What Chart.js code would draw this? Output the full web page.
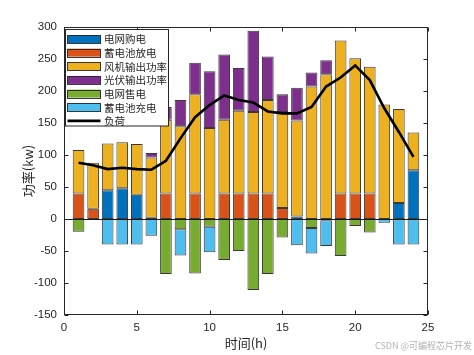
<!DOCTYPE html>
<html><head><meta charset="utf-8">
<script src="https://cdn.jsdelivr.net/npm/chart.js@4/dist/chart.umd.min.js"></script>
<style>html,body{margin:0;padding:0;background:#fff}#wrap{width:474px;height:355px;position:relative}</style>
</head><body><div id="wrap"><canvas id="c" width="474" height="355"></canvas></div>
<script>
// ---- data ----
const hours = [1,2,3,4,5,6,7,8,9,10,11,12,13,14,15,16,17,18,19,20,21,22,23,24];
const seriesNames = ['电网购电','蓄电池放电','风机输出功率','光伏输出功率','电网售电','蓄电池充电','负荷'];
const gridBuy   = [null,null,45,48,38,2,null,null,null,null,null,null,null,null,null,4,null,null,null,null,null,null,25,76];
const batDis    = [40,16,null,null,null,null,40,null,40,null,40,40,40,40,17,null,null,null,40,40,40,null,null,null];
const windPow   = [68,72,73,72,79,94,115,145,155,142,115,129,127,146,150,150,207,226,239,211,198,179,147,59];
const pvPow     = [null,null,null,null,null,7,20,41,49,89,102,67,127,68,28,51,22,22,null,null,null,null,null,null];
const gridSell  = [-20,null,null,null,null,null,-86,-16,-85,-12,-64,-50,-111,-86,-29,null,-14,-2,-58,-11,-21,null,null,null];
const batCharge = [null,null,-40,-40,-40,-26,null,-41,null,-40,null,null,null,null,null,-41,-40,-40,null,null,null,-6,-40,-40];
const load      = [88,84,78,80,78,77,91,126,159,178,193,186,182,168,165,165,175,207,221,240,217,173,136,97];
const yTicks = [-150,-100,-50,0,50,100,150,200,250,300];
const xTicks = [0,5,10,15,20,25];

const colors = ['#0072BD','#D95319','#EDB120','#7E2F8E','#77AC30','#4DBEEE'];
const toXY = arr => hours.map((h,i)=>({x:h, y:arr[i]}));
const barSets = [gridBuy,batDis,windPow,pvPow,gridSell,batCharge].map((arr,i)=>({
  type:'bar', label:seriesNames[i], data:toXY(arr), backgroundColor:colors[i],
  borderColor:'rgba(35,35,35,0.9)', borderWidth:1, borderSkipped:false,
  barPercentage:0.8, categoryPercentage:1.0, stack:'s', order:2
}));
const lineSet = {type:'line', label:seriesNames[6], data:toXY(load), borderColor:'#000',
  backgroundColor:'#000', borderWidth:2.6, pointRadius:0, tension:0, stack:'load', order:0};

const CJK = '"Noto Sans CJK SC","Noto Sans",sans-serif';
const NUM = '"Liberation Sans",Arial,sans-serif';

const frame = {
  id:'frame',
  afterDatasetsDraw(chart){
    const {ctx, chartArea:a, scales:{y}} = chart;
    ctx.save();
    ctx.strokeStyle='#1a1a1a'; ctx.lineWidth=1;
    const y0 = Math.round(y.getPixelForValue(0))+0.5;
    ctx.beginPath(); ctx.moveTo(a.left,y0); ctx.lineTo(a.right,y0); ctx.stroke();
    ctx.restore();
  },
  afterDraw(chart){
    const {ctx, chartArea:a, scales:{x,y}} = chart;
    ctx.save();
    ctx.strokeStyle='#262626'; ctx.lineWidth=1;
    const L=Math.round(a.left)+0.5, R=Math.round(a.right)-0.5, T=Math.round(a.top)+0.5, B=Math.round(a.bottom)-0.5;
    ctx.strokeRect(L,T,R-L,B-T);
    const tl=4;
    ctx.beginPath();
    xTicks.forEach(v=>{const px=Math.round(x.getPixelForValue(v))+0.5;
      ctx.moveTo(px,B); ctx.lineTo(px,B-tl); ctx.moveTo(px,T); ctx.lineTo(px,T+tl);});
    yTicks.forEach(v=>{const py=Math.round(y.getPixelForValue(v))+0.5;
      ctx.moveTo(L,py); ctx.lineTo(L+tl,py); ctx.moveTo(R,py); ctx.lineTo(R-tl,py);});
    ctx.stroke();
    // legend
    const bx=65.5, by=29.5, bw=103, bh=96.5;
    ctx.fillStyle='#fff'; ctx.fillRect(bx,by,bw,bh);
    ctx.strokeStyle='#262626'; ctx.strokeRect(bx,by,bw,bh);
    ctx.font='10.5px '+CJK; ctx.textBaseline='middle'; ctx.textAlign='left';
    for(let i=0;i<7;i++){
      const cy=39+i*13.65;
      if(i<6){
        ctx.fillStyle=colors[i]; ctx.fillRect(67.5,cy-4,33,8);
        ctx.strokeStyle='rgba(35,35,35,0.9)'; ctx.lineWidth=1; ctx.strokeRect(67.5,Math.round(cy-4)+0.5,33,8);
      } else {
        ctx.strokeStyle='#000'; ctx.lineWidth=2.6; ctx.beginPath(); ctx.moveTo(67.5,cy); ctx.lineTo(100.5,cy); ctx.stroke();
      }
      ctx.fillStyle='#262626'; ctx.fillText(seriesNames[i],104,cy+0.5);
    }
    // watermark
    ctx.font='9px '+CJK; ctx.fillStyle='rgba(150,150,150,0.75)'; ctx.textAlign='right';
    ctx.fillText('CSDN @可编程芯片开发',472,346);
    ctx.restore();
  }
};

new Chart(document.getElementById('c'), {
  data:{datasets:[lineSet, ...barSets]},
  options:{
    responsive:false, animation:false, devicePixelRatio:1,
    layout:{padding:{top:27,right:46,left:0,bottom:0}},
    plugins:{legend:{display:false}, tooltip:{enabled:false}},
    scales:{
      x:{type:'linear', min:0, max:25, stacked:true, offset:false,
        afterBuildTicks(s){ s.ticks = xTicks.map(v=>({value:v})); },
        afterFit(s){ s.height = 40; },
        grid:{display:false, drawTicks:false}, border:{display:false},
        ticks:{padding:6, color:'#262626', font:{family:NUM, size:11.5}},
        title:{display:true, text:'时间(h)', color:'#262626', font:{family:CJK, size:13}, padding:{top:0,bottom:4}}
      },
      y:{type:'linear', min:-150, max:300, stacked:true,
        afterBuildTicks(s){ s.ticks = yTicks.map(v=>({value:v})); },
        afterFit(s){ s.width = 64; },
        grid:{display:false, drawTicks:false}, border:{display:false},
        ticks:{padding:7, color:'#262626', font:{family:NUM, size:11.5}},
        title:{display:true, text:'功率(kw)', color:'#262626', font:{family:CJK, size:13}, padding:{top:20,bottom:0}}
      }
    }
  },
  plugins:[frame]
});
</script></body></html>
